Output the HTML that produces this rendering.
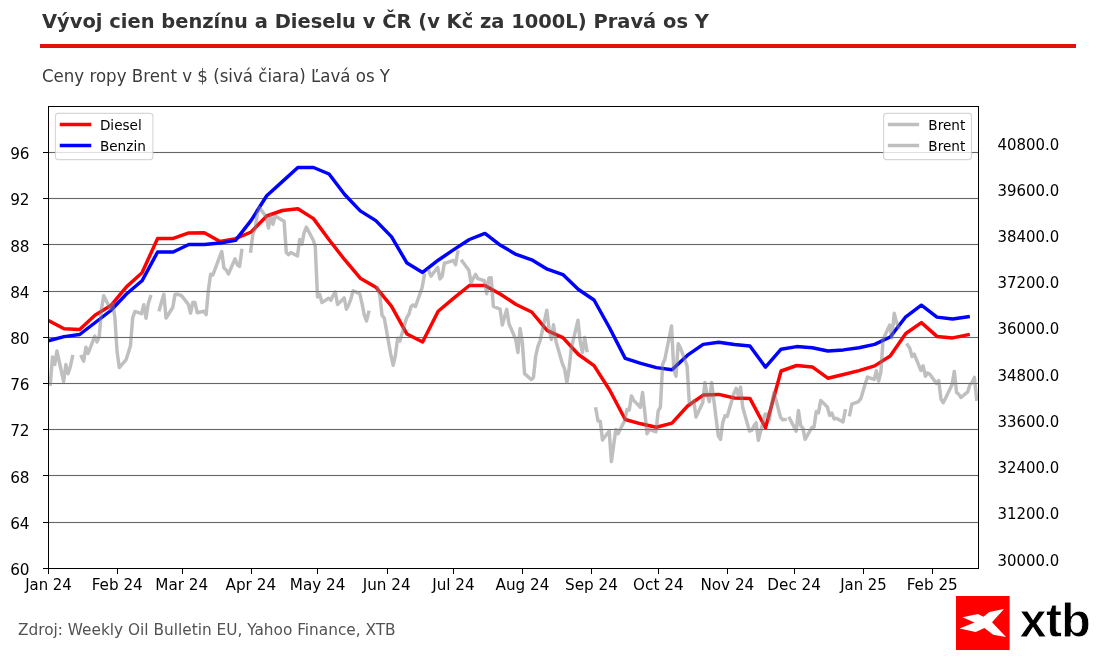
<!DOCTYPE html>
<html lang="sk"><head><meta charset="utf-8">
<title>Vývoj cien benzínu a Dieselu v ČR</title>
<style>
html,body{margin:0;padding:0;background:#fff;}
body{width:1103px;height:662px;overflow:hidden;position:relative;font-family:"DejaVu Sans","Liberation Sans",sans-serif;}
svg{position:absolute;left:0;top:0;display:block;}
text{font-family:"DejaVu Sans","Liberation Sans",sans-serif;}
.tick{font-size:15.28px;fill:#000;}
.leg{font-size:13.89px;fill:#000;}
.ln{fill:none;stroke-width:3.47;stroke-linejoin:round;stroke-linecap:square;}
</style></head><body>
<svg width="1103" height="662" viewBox="0 0 1103 662">
<rect x="0" y="0" width="1103" height="662" fill="#fff"/>
<text x="42.00" y="27.90" font-size="19.44" fill="#333333" textLength="666.84" lengthAdjust="spacingAndGlyphs" font-weight="bold">Vývoj cien benzínu a Dieselu v ČR (v Kč za 1000L) Pravá os Y</text>
<rect x="40" y="44" width="1036" height="4" fill="#e1110c"/>
<g transform="translate(0 81.90) scale(1 1.06) translate(0 -81.90)"><text x="42.00" y="81.90" font-size="16.67" fill="#3c3c3c" textLength="347.99" lengthAdjust="spacingAndGlyphs">Ceny ropy Brent v $ (sivá čiara) Ľavá os Y</text></g>
<g shape-rendering="crispEdges">
<rect x="49" y="521" width="929" height="3" fill="#666666" fill-opacity="0.055"/>
<rect x="49" y="522" width="929" height="1" fill="#666666"/>
<rect x="49" y="474" width="929" height="3" fill="#666666" fill-opacity="0.055"/>
<rect x="49" y="475" width="929" height="1" fill="#666666"/>
<rect x="49" y="428" width="929" height="3" fill="#666666" fill-opacity="0.055"/>
<rect x="49" y="429" width="929" height="1" fill="#666666"/>
<rect x="49" y="382" width="929" height="3" fill="#666666" fill-opacity="0.055"/>
<rect x="49" y="383" width="929" height="1" fill="#666666"/>
<rect x="49" y="336" width="929" height="3" fill="#666666" fill-opacity="0.055"/>
<rect x="49" y="337" width="929" height="1" fill="#666666"/>
<rect x="49" y="290" width="929" height="3" fill="#666666" fill-opacity="0.055"/>
<rect x="49" y="291" width="929" height="1" fill="#666666"/>
<rect x="49" y="243" width="929" height="3" fill="#666666" fill-opacity="0.055"/>
<rect x="49" y="244" width="929" height="1" fill="#666666"/>
<rect x="49" y="197" width="929" height="3" fill="#666666" fill-opacity="0.055"/>
<rect x="49" y="198" width="929" height="1" fill="#666666"/>
<rect x="49" y="151" width="929" height="3" fill="#666666" fill-opacity="0.055"/>
<rect x="49" y="152" width="929" height="1" fill="#666666"/>
</g>
<clipPath id="c"><rect x="48.5" y="106.5" width="930" height="462"/></clipPath>
<g clip-path="url(#c)">
<polyline class="ln" stroke="#ff0000" points="48.50,320.60 64.09,328.80 79.67,329.40 95.26,314.90 110.85,305.60 126.43,286.90 142.02,272.80 157.61,238.40 173.20,238.40 188.78,232.90 204.37,232.70 219.96,241.40 235.54,238.65 251.13,232.00 266.72,216.00 282.30,210.50 297.89,208.80 313.48,218.60 329.06,239.80 344.65,259.70 360.24,278.20 375.82,287.20 391.41,306.10 407.00,334.05 422.59,342.00 438.17,311.30 453.76,298.10 469.35,285.50 484.93,285.50 500.52,294.30 516.11,304.50 531.69,312.00 547.28,330.60 562.87,337.60 578.45,354.50 594.04,365.60 609.63,390.00 625.22,419.50 640.80,423.80 656.39,427.30 671.98,423.10 687.56,406.00 703.15,395.10 718.74,394.40 734.32,398.00 749.91,398.40 765.50,427.80 781.08,371.00 796.67,365.50 812.26,366.90 827.85,378.20 843.43,374.50 859.02,370.60 874.61,365.90 890.19,356.00 905.78,333.50 921.37,322.60 936.95,336.40 952.54,337.90 968.13,334.70"/>
<polyline class="ln" stroke="#0000ff" points="48.50,340.70 64.09,336.60 79.67,334.50 95.26,322.50 110.85,310.50 126.43,294.00 142.02,280.80 157.61,252.00 173.20,252.00 188.78,244.50 204.37,244.60 219.96,243.10 235.54,240.40 251.13,220.40 266.72,195.70 282.30,181.60 297.89,167.50 313.48,167.50 329.06,174.00 344.65,194.50 360.24,210.90 375.82,220.60 391.41,236.60 407.00,263.10 422.59,272.40 438.17,260.20 453.76,249.60 469.35,239.50 484.93,233.40 500.52,245.30 516.11,254.40 531.69,259.80 547.28,269.20 562.87,274.60 578.45,289.50 594.04,300.00 609.63,328.00 625.22,358.40 640.80,363.40 656.39,367.60 671.98,369.70 687.56,355.20 703.15,344.35 718.74,342.20 734.32,344.50 749.91,345.90 765.50,367.20 781.08,349.20 796.67,346.60 812.26,347.80 827.85,351.00 843.43,349.90 859.02,347.80 874.61,344.40 890.19,337.00 905.78,316.80 921.37,305.20 936.95,317.10 952.54,319.00 968.13,316.80"/>
<polyline class="ln" stroke="#808080" stroke-opacity="0.5" points="50.28,384.22 52.50,356.96 54.73,364.59 56.96,351.07 63.64,381.56 65.86,364.59 68.09,373.71 70.32,366.66 72.54,356.50"/>
<polyline class="ln" stroke="#808080" stroke-opacity="0.5" points="81.45,356.50 83.68,361.24 85.90,347.15 88.13,353.38 94.81,336.06 97.04,341.95 99.26,336.29 101.49,308.68 103.72,295.75 110.40,309.03 112.62,303.60 114.85,317.00 117.08,351.76 119.30,367.59 125.98,359.97 128.21,353.04 130.44,345.87 132.66,317.92 134.89,311.46 141.57,313.65 143.80,304.76 146.02,318.27 148.25,303.72 150.48,296.67"/>
<polyline class="ln" stroke="#808080" stroke-opacity="0.5" points="159.38,309.72 161.61,301.75 163.84,294.36 166.07,318.04 172.75,307.53 174.97,294.59 177.20,294.25 179.43,294.94 181.65,295.75 188.33,304.41 190.56,313.19 192.79,302.56 195.01,302.56 197.24,312.73 203.92,311.22 206.15,314.57 208.37,290.20 210.60,274.15 212.83,275.07 219.51,257.17 221.73,251.51 223.96,268.03 226.19,269.99 228.41,274.03 235.09,258.79 237.32,264.56 239.55,266.41 241.77,250.36"/>
<polyline class="ln" stroke="#808080" stroke-opacity="0.5" points="250.68,251.05 252.91,233.72 255.13,228.76 257.36,213.74 259.59,207.74 266.27,216.86 268.49,227.95 270.72,215.71 272.95,224.25 275.17,216.05 281.85,220.10 284.08,221.02 286.31,252.55 288.53,254.63 290.76,252.55 297.44,255.90 299.67,239.50 301.89,244.12 304.12,232.68 306.35,227.02 313.03,239.73 315.25,245.97 317.48,297.02 319.71,294.36 321.93,302.56 328.61,298.29 330.84,300.25 333.07,295.40 335.29,291.94 337.52,304.53 344.20,297.94 346.43,309.26 348.65,304.99 350.88,298.98 353.11,290.78 359.79,293.90 362.01,303.49 364.24,314.80 366.47,321.04 368.69,312.26"/>
<polyline class="ln" stroke="#808080" stroke-opacity="0.5" points="377.60,288.01 379.83,295.17 382.06,315.27 384.28,318.04 390.96,355.69 393.19,365.39 395.42,355.11 397.64,338.25 399.87,341.14 406.55,317.92 408.78,314.57 411.00,306.72 413.23,304.99 415.46,306.49 422.14,287.66 424.36,275.19"/>
<polyline class="ln" stroke="#808080" stroke-opacity="0.5" points="428.82,270.80 431.04,276.23 437.72,267.33 439.95,278.88 442.18,276.11 444.40,262.95 446.63,262.71 453.31,260.52 455.54,264.68 457.76,251.97"/>
<polyline class="ln" stroke="#808080" stroke-opacity="0.5" points="462.22,261.21 468.90,270.34 471.12,282.93 473.35,278.08 475.58,274.38 477.80,278.65 484.48,280.73 486.71,293.67 488.94,278.08 491.16,277.73 493.39,306.37 500.07,309.03 502.30,325.08 504.52,317.00 506.75,309.38 508.98,323.70 515.66,339.29 517.88,352.57 520.11,328.43 522.34,342.29 524.56,373.59 531.24,379.49 533.47,377.41 535.70,356.04 537.92,346.45 540.15,340.68 546.83,310.19 549.06,328.78 551.28,339.52 553.51,324.74 555.74,340.45 562.42,363.78 564.64,369.09 566.87,382.37 569.10,368.86 571.32,348.07 578.00,320.23 580.23,341.95 582.46,352.34 584.68,337.44 586.91,350.61"/>
<polyline class="ln" stroke="#808080" stroke-opacity="0.5" points="595.82,408.94 598.04,421.06 600.27,421.18 602.50,440.01 609.18,431.00 611.41,461.61 613.63,445.20 615.86,429.50 618.09,433.65 624.77,420.49 626.99,409.51 629.22,410.09 631.45,395.89 633.67,400.39 640.35,407.20 642.58,392.54 644.81,412.29 647.03,433.77 649.26,429.38 655.94,431.81 658.17,411.13 660.39,407.20 662.62,364.24 664.85,359.27 671.53,326.01 673.75,369.32 675.98,376.25 678.21,343.68 680.43,347.84 687.11,366.09 689.34,403.16 691.57,403.51 693.79,400.85 696.02,416.91 702.70,402.70 704.93,382.49 707.15,394.96 709.38,401.66 711.61,382.37 718.29,435.85 720.51,439.31 722.74,422.80 724.97,415.75 727.19,416.45 733.87,393.58 736.10,388.38 738.33,395.42 740.55,387.22 742.78,407.55 749.46,431.11 751.69,430.42 753.91,425.92 756.14,422.68 758.37,440.24 765.05,414.13 767.27,414.02 769.50,419.79 771.73,403.39 773.95,392.54 780.63,417.48 782.86,419.79 785.09,419.56"/>
<polyline class="ln" stroke="#808080" stroke-opacity="0.5" points="789.54,418.29 796.22,431.11 798.45,410.44 800.67,425.57 802.90,428.11 805.13,439.31 811.81,427.53 814.03,426.96 816.26,411.59 818.49,412.86 820.71,400.39 827.39,407.09 829.62,415.41 831.85,413.10 834.08,418.99 836.30,418.29 842.98,421.87 845.21,410.90"/>
<polyline class="ln" stroke="#808080" stroke-opacity="0.5" points="849.66,414.60 851.89,404.09 858.57,401.55 860.80,398.66 865.25,383.76 867.48,377.06 874.16,379.49 876.38,370.82 878.61,381.10 880.84,372.32 883.06,339.52 889.74,325.08 891.97,337.67 894.20,313.30 896.42,321.85 898.65,327.63"/>
<polyline class="ln" stroke="#808080" stroke-opacity="0.5" points="907.56,344.95 909.78,348.30 912.01,356.50 914.24,354.07 920.92,370.48 923.14,365.74 925.37,376.25 927.60,372.90 929.82,374.17 936.50,383.41 938.73,380.64 940.96,399.00 943.18,402.70 945.41,398.43 952.09,384.45 954.32,371.40 956.54,392.42 958.77,394.27 961.00,397.50 967.68,391.96 969.90,384.80 972.13,382.49 974.36,377.41 976.58,399.12"/>
</g>
<g shape-rendering="crispEdges" fill="#000">
<rect x="48" y="106" width="931" height="1"/>
<rect x="48" y="568" width="931" height="1"/>
<rect x="48" y="106" width="1" height="463"/>
<rect x="978" y="106" width="1" height="463"/>
<rect x="43" y="568" width="5" height="1"/>
<rect x="43" y="522" width="5" height="1"/>
<rect x="43" y="475" width="5" height="1"/>
<rect x="43" y="429" width="5" height="1"/>
<rect x="43" y="383" width="5" height="1"/>
<rect x="43" y="337" width="5" height="1"/>
<rect x="43" y="291" width="5" height="1"/>
<rect x="43" y="244" width="5" height="1"/>
<rect x="43" y="198" width="5" height="1"/>
<rect x="43" y="152" width="5" height="1"/>
<rect x="48" y="569" width="1" height="5"/>
<rect x="117" y="569" width="1" height="5"/>
<rect x="182" y="569" width="1" height="5"/>
<rect x="251" y="569" width="1" height="5"/>
<rect x="317" y="569" width="1" height="5"/>
<rect x="387" y="569" width="1" height="5"/>
<rect x="453" y="569" width="1" height="5"/>
<rect x="522" y="569" width="1" height="5"/>
<rect x="591" y="569" width="1" height="5"/>
<rect x="658" y="569" width="1" height="5"/>
<rect x="727" y="569" width="1" height="5"/>
<rect x="794" y="569" width="1" height="5"/>
<rect x="863" y="569" width="1" height="5"/>
<rect x="932" y="569" width="1" height="5"/>
</g>
<text x="10.16" y="575.00" font-size="15.28" fill="#000" textLength="19.44" lengthAdjust="spacingAndGlyphs">60</text>
<text x="10.16" y="529.00" font-size="15.28" fill="#000" textLength="19.44" lengthAdjust="spacingAndGlyphs">64</text>
<text x="10.16" y="483.00" font-size="15.28" fill="#000" textLength="19.44" lengthAdjust="spacingAndGlyphs">68</text>
<text x="10.16" y="436.00" font-size="15.28" fill="#000" textLength="19.44" lengthAdjust="spacingAndGlyphs">72</text>
<text x="10.16" y="390.00" font-size="15.28" fill="#000" textLength="19.44" lengthAdjust="spacingAndGlyphs">76</text>
<text x="10.16" y="344.00" font-size="15.28" fill="#000" textLength="19.44" lengthAdjust="spacingAndGlyphs">80</text>
<text x="10.16" y="298.00" font-size="15.28" fill="#000" textLength="19.44" lengthAdjust="spacingAndGlyphs">84</text>
<text x="10.16" y="252.00" font-size="15.28" fill="#000" textLength="19.44" lengthAdjust="spacingAndGlyphs">88</text>
<text x="10.16" y="205.00" font-size="15.28" fill="#000" textLength="19.44" lengthAdjust="spacingAndGlyphs">92</text>
<text x="10.16" y="159.00" font-size="15.28" fill="#000" textLength="19.44" lengthAdjust="spacingAndGlyphs">96</text>
<text x="25.17" y="589.80" font-size="15.28" fill="#000" textLength="46.66" lengthAdjust="spacingAndGlyphs">Jan 24</text>
<text x="91.65" y="589.80" font-size="15.28" fill="#000" textLength="51.15" lengthAdjust="spacingAndGlyphs">Feb 24</text>
<text x="155.34" y="589.80" font-size="15.28" fill="#000" textLength="52.92" lengthAdjust="spacingAndGlyphs">Mar 24</text>
<text x="225.56" y="589.80" font-size="15.28" fill="#000" textLength="50.53" lengthAdjust="spacingAndGlyphs">Apr 24</text>
<text x="289.80" y="589.80" font-size="15.28" fill="#000" textLength="55.67" lengthAdjust="spacingAndGlyphs">May 24</text>
<text x="362.67" y="589.80" font-size="15.28" fill="#000" textLength="47.98" lengthAdjust="spacingAndGlyphs">Jun 24</text>
<text x="432.18" y="589.80" font-size="15.28" fill="#000" textLength="42.57" lengthAdjust="spacingAndGlyphs">Jul 24</text>
<text x="495.53" y="589.80" font-size="15.28" fill="#000" textLength="53.92" lengthAdjust="spacingAndGlyphs">Aug 24</text>
<text x="565.07" y="589.80" font-size="15.28" fill="#000" textLength="52.89" lengthAdjust="spacingAndGlyphs">Sep 24</text>
<text x="633.06" y="589.80" font-size="15.28" fill="#000" textLength="50.52" lengthAdjust="spacingAndGlyphs">Oct 24</text>
<text x="700.39" y="589.80" font-size="15.28" fill="#000" textLength="53.91" lengthAdjust="spacingAndGlyphs">Nov 24</text>
<text x="767.32" y="589.80" font-size="15.28" fill="#000" textLength="53.65" lengthAdjust="spacingAndGlyphs">Dec 24</text>
<text x="840.14" y="589.80" font-size="15.28" fill="#000" textLength="46.66" lengthAdjust="spacingAndGlyphs">Jan 25</text>
<text x="906.63" y="589.80" font-size="15.28" fill="#000" textLength="51.15" lengthAdjust="spacingAndGlyphs">Feb 25</text>
<text x="997.60" y="149.80" font-size="15.28" fill="#000" textLength="61.73" lengthAdjust="spacingAndGlyphs">40800.0</text>
<text x="997.60" y="195.80" font-size="15.28" fill="#000" textLength="61.73" lengthAdjust="spacingAndGlyphs">39600.0</text>
<text x="997.60" y="241.80" font-size="15.28" fill="#000" textLength="61.73" lengthAdjust="spacingAndGlyphs">38400.0</text>
<text x="997.60" y="287.80" font-size="15.28" fill="#000" textLength="61.73" lengthAdjust="spacingAndGlyphs">37200.0</text>
<text x="997.60" y="333.80" font-size="15.28" fill="#000" textLength="61.73" lengthAdjust="spacingAndGlyphs">36000.0</text>
<text x="997.60" y="380.80" font-size="15.28" fill="#000" textLength="61.73" lengthAdjust="spacingAndGlyphs">34800.0</text>
<text x="997.60" y="426.80" font-size="15.28" fill="#000" textLength="61.73" lengthAdjust="spacingAndGlyphs">33600.0</text>
<text x="997.60" y="472.80" font-size="15.28" fill="#000" textLength="61.73" lengthAdjust="spacingAndGlyphs">32400.0</text>
<text x="997.60" y="518.80" font-size="15.28" fill="#000" textLength="61.73" lengthAdjust="spacingAndGlyphs">31200.0</text>
<text x="997.60" y="565.80" font-size="15.28" fill="#000" textLength="61.73" lengthAdjust="spacingAndGlyphs">30000.0</text>
<rect x="55.4" y="113.4" width="97.5" height="46.19999999999999" rx="2.8" ry="2.8" fill="#fff" fill-opacity="0.8" stroke="#cccccc" stroke-opacity="0.8" stroke-width="1.1"/>
<line x1="61.5" y1="124.5" x2="89.5" y2="124.5" stroke="#ff0000" stroke-opacity="1" stroke-width="3.47" stroke-linecap="square"/>
<text x="99.90" y="129.80" font-size="13.89" fill="#000" textLength="41.89" lengthAdjust="spacingAndGlyphs">Diesel</text>
<line x1="61.5" y1="145.5" x2="89.5" y2="145.5" stroke="#0000ff" stroke-opacity="1" stroke-width="3.47" stroke-linecap="square"/>
<text x="99.90" y="150.80" font-size="13.89" fill="#000" textLength="45.90" lengthAdjust="spacingAndGlyphs">Benzin</text>
<rect x="883.6" y="113.4" width="87.89999999999998" height="46.19999999999999" rx="2.8" ry="2.8" fill="#fff" fill-opacity="0.8" stroke="#cccccc" stroke-opacity="0.8" stroke-width="1.1"/>
<line x1="889.6" y1="124.5" x2="917.4" y2="124.5" stroke="#808080" stroke-opacity="0.5" stroke-width="3.47" stroke-linecap="square"/>
<text x="928.30" y="129.80" font-size="13.89" fill="#000" textLength="36.98" lengthAdjust="spacingAndGlyphs">Brent</text>
<line x1="889.6" y1="145.5" x2="917.4" y2="145.5" stroke="#808080" stroke-opacity="0.5" stroke-width="3.47" stroke-linecap="square"/>
<text x="928.30" y="150.80" font-size="13.89" fill="#000" textLength="36.98" lengthAdjust="spacingAndGlyphs">Brent</text>
<text x="18.00" y="634.80" font-size="15.28" fill="#525252" textLength="377.63" lengthAdjust="spacingAndGlyphs">Zdroj: Weekly Oil Bulletin EU, Yahoo Finance, XTB</text>
<rect x="956" y="596" width="53.6" height="54" fill="#ff0000"/>
<path fill="#fff" d="M962.3 617.3 L978 614.05 L983.4 616.7 L989.3 612.1 L1004 608.95 L992 622.2 L1006 636.9 L993.2 634.7 L984.4 628 L975.7 632 L959.5 628.6 L974.5 622.4 Z"/>
<g transform="translate(1020.0 0) scale(1.027 1)"><text x="-0.4 25 39.9" y="636.7" style="font-family:'Liberation Sans','DejaVu Sans',sans-serif;font-weight:bold;font-size:47.6px" fill="#000" stroke="#fff" stroke-width="0.8">xtb</text></g>
</svg>
</body></html>
